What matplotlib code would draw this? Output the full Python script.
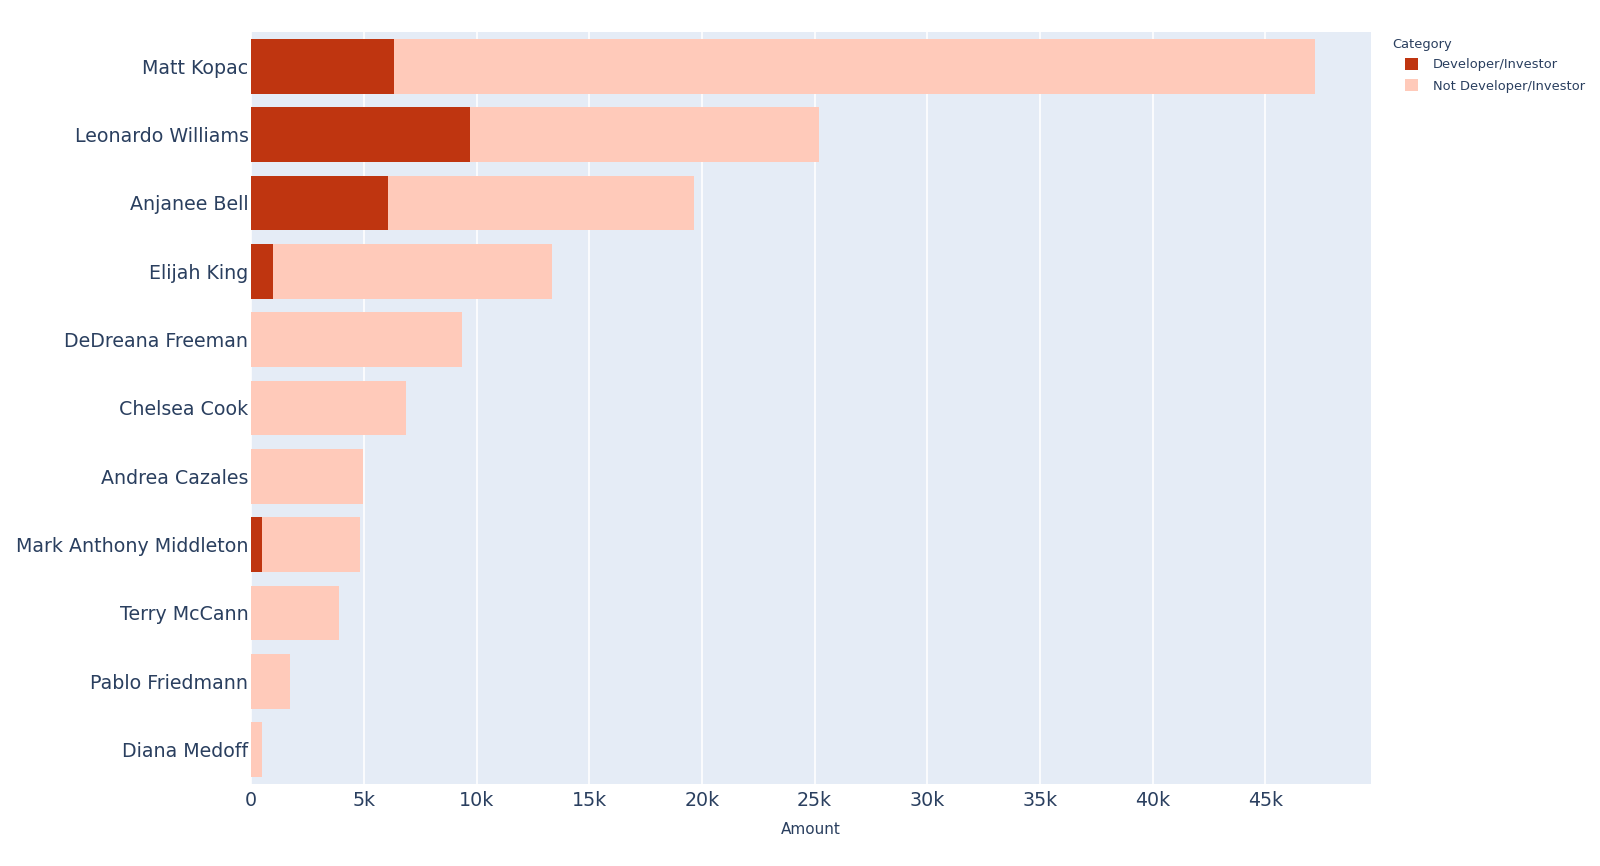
import matplotlib.pyplot as plt
from matplotlib.ticker import FuncFormatter

# candidates, top to bottom as shown
candidates = ['Matt Kopac', 'Leonardo Williams', 'Anjanee Bell', 'Elijah King',
              'DeDreana Freeman', 'Chelsea Cook', 'Andrea Cazales',
              'Mark Anthony Middleton', 'Terry McCann', 'Pablo Friedmann',
              'Diana Medoff']
# amounts by category
developer = [6330, 9700, 6070, 960, 0, 0, 0, 460, 0, 0, 0]
not_developer = [40870, 15480, 13590, 12410, 9350, 6890, 4970, 4380, 3880, 1730, 460]

dev_color = '#BF3510'
notdev_color = '#FFCABA'
text_color = '#2a3f5f'

fig = plt.figure(figsize=(16, 8.66), dpi=100)
ax = fig.add_axes([0.157, 0.095, 0.700, 0.868])
ax.set_facecolor('#E5ECF6')

y = list(range(len(candidates)))
ax.barh(y, developer, height=0.8, color=dev_color, label='Developer/Investor', zorder=2)
ax.barh(y, not_developer, left=developer, height=0.8, color=notdev_color,
        label='Not Developer/Investor', zorder=2)

ax.set_yticks(y)
ax.set_yticklabels(candidates)
ax.set_ylim(len(candidates) - 0.5, -0.5)
ax.set_xlim(0, 49700)
ax.set_xticks(range(0, 45001, 5000))
ax.xaxis.set_major_formatter(FuncFormatter(lambda v, p: '0' if v == 0 else f'{int(v/1000)}k'))
ax.grid(axis='x', color='white', linewidth=1.2, zorder=1)
ax.set_axisbelow(True)
for s in ax.spines.values():
    s.set_visible(False)
ax.tick_params(length=0, labelsize=13.7, labelcolor=text_color)
ax.tick_params(axis='y', pad=2)
ax.tick_params(axis='x', pad=5)
ax.set_xlabel('Amount', fontsize=11, color=text_color, labelpad=9)

# legend title drawn separately so the entries can be indented like the original
fig.text(0.870, 0.949, 'Category', fontsize=9.4, color=text_color, va='center', ha='left')
leg = fig.legend(loc='upper left', bbox_to_anchor=(0.878, 0.933), frameon=False,
                 fontsize=9.4, handlelength=1.0, handleheight=1.0, handletextpad=1.15,
                 labelspacing=0.62, borderpad=0, borderaxespad=0)
for t in leg.get_texts():
    t.set_color(text_color)

fig.savefig('out.png', dpi=100, facecolor='white')
